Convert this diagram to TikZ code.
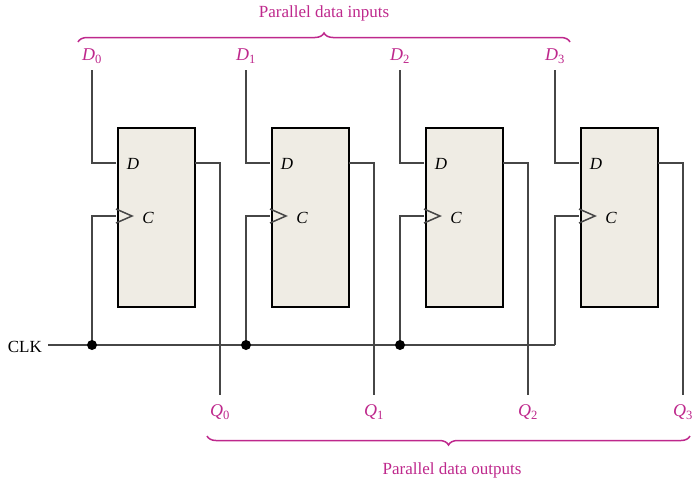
\documentclass[tikz,border=0pt]{standalone}
\usepackage{fontspec}
\setmainfont{Liberation Serif}
\usetikzlibrary{decorations.pathreplacing}
\definecolor{mag}{RGB}{190,40,140}
\definecolor{ffill}{RGB}{239,236,228}
\definecolor{ln}{RGB}{70,70,70}
\begin{document}
\begin{tikzpicture}[x=1pt,y=-1pt,
  ff/.style={draw=black,line width=2.4pt,fill=ffill,minimum width=77pt,minimum height=179pt,inner sep=0pt},
  wire/.style={draw=ln,line width=1.6pt},
  lab/.style={text=mag,font=\fontsize{18}{18}\selectfont\itshape,inner sep=1pt},
  pin/.style={font=\fontsize{17}{17}\selectfont\itshape,inner sep=0pt},
  dot/.style={circle,fill=black,inner sep=0pt,minimum size=10pt},
  brace/.style={draw=mag,line width=1.5pt,decorate,decoration={brace,amplitude=9pt}}]
\useasboundingbox (0,0) rectangle (700,485);
\foreach \i/\x in {0/116,1/270,2/424,3/579}{
  \node[ff,anchor=north west] (b\i) at (\x+1,127) {};
  \coordinate (dt\i) at (\x-24,70);
  \coordinate (dd\i) at (\x-24,163);
  \coordinate (di\i) at (\x,163);
  \coordinate (ci\i) at (\x,216);
  \coordinate (cc\i) at (\x-24,216);
  \coordinate (ck\i) at (\x-24,345);
  \coordinate (qo\i) at (\x+79,163);
  \coordinate (qc\i) at (\x+104,163);
  \coordinate (qb\i) at (\x+104,395);
  \node[lab] (dl\i) at (\x-24,56) {D\textsubscript{\upshape\i}};
  \node[lab] (ql\i) at (\x+104,412) {Q\textsubscript{\upshape\i}};
  \node[pin] (pd\i) at (\x+17,164) {D};
  \node[pin] (pc\i) at (\x+32,218) {C};
  \draw[wire] (dt\i) -- (dd\i) -- (di\i);
  \draw[wire] (ck\i) -- (cc\i) -- (ci\i);
  \draw[wire] (qo\i) -- (qc\i) -- (qb\i);
  \draw[line width=1.5pt,ln] (\x,209) -- (\x+16,216) -- (\x,223);
}
\coordinate (clkend) at (48,345);
\node[font=\fontsize{17}{17}\selectfont,anchor=east,inner sep=0pt] (clk) at (42,347) {CLK};
\draw[wire] (clkend) -- (ck3);
\foreach \i in {0,1,2}{\node[dot] (dt\i x) at (ck\i) {};}
\coordinate (tb1) at (78,42); \coordinate (tb2) at (570,42);
\draw[brace] (tb1) -- (tb2);
\node[text=mag,font=\fontsize{17}{17}\selectfont] (pin) at (324,13) {Parallel data inputs};
\coordinate (bb1) at (690,436); \coordinate (bb2) at (207,436);
\draw[brace] (bb1) -- (bb2);
\node[text=mag,font=\fontsize{17}{17}\selectfont] (pout) at (452,470) {Parallel data outputs};
\end{tikzpicture}
\end{document}
